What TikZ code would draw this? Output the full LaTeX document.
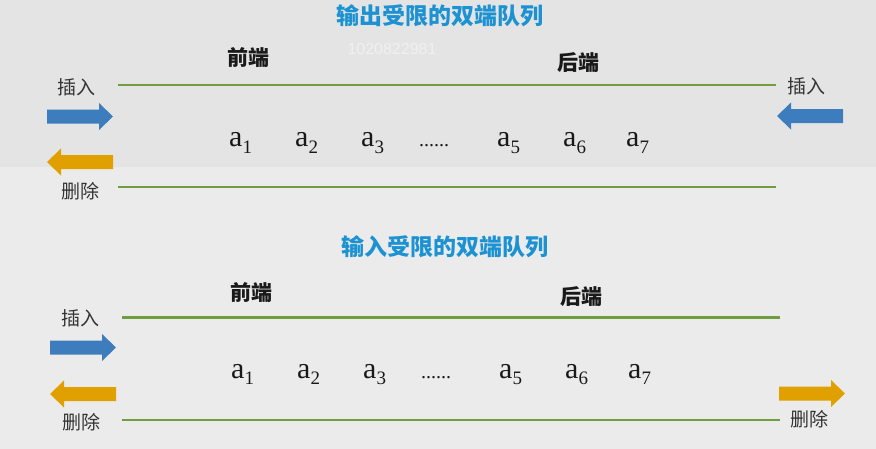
\documentclass[tikz,border=0pt]{standalone}
\usepackage{fontspec}
\setmainfont{Liberation Serif}
\setsansfont{Liberation Sans}
\newfontfamily\cjk{Noto Sans CJK SC}
\usetikzlibrary{positioning}

\definecolor{titleblue}{HTML}{1C92D2}
\definecolor{arrowblue}{HTML}{3D7DBE}
\definecolor{arroworange}{HTML}{E0A000}
\definecolor{linegreen}{HTML}{6E9E40}
\definecolor{bgtop}{HTML}{E4E4E4}
\definecolor{bgbottom}{HTML}{EBEBEB}

\tikzset{
  title/.style={inner sep=0, text=titleblue, font=\cjk\bfseries\fontsize{23}{23}\selectfont},
  side/.style={inner sep=0, text=black!90, font=\cjk\bfseries\fontsize{21}{21}\selectfont},
  op/.style={inner sep=0, text=black!80, font=\cjk\fontsize{19}{19}\selectfont},
  elem/.style={anchor=base west, inner sep=0, text=black!90, font=\fontsize{30}{30}\selectfont},
  dots/.style={anchor=base west, inner sep=0, text=black!90, font=\fontsize{20}{20}\selectfont},
  bound/.style={draw=linegreen, line width=2.5pt},
  fat arrow/.pic={\fill (0,-7) -- (52,-7) -- (52,-13.5) -- (66,0) -- (52,13.5) -- (52,7) -- (0,7) -- cycle;}
}
\newcommand\elm[1]{a\raisebox{-6.5pt}{\fontsize{19}{19}\selectfont #1}}

\begin{document}
\begin{tikzpicture}[x=1pt, y=-1pt]
  \useasboundingbox (0,0) rectangle (876,448);
  % background
  \fill[bgtop] (-2,-2) rectangle (878,167);
  \fill[bgbottom] (-2,167) rectangle (878,450);

  % output restricted
  \node (t1) [title] at (440,16) {输出受限的双端队列};
  \node (wm) [inner sep=0, text=white, opacity=0.45, font=\sffamily\fontsize{16}{16}\selectfont] at (392,48.5) {1020822981};
  \node (front1) [side] at (248.5,58) {前端};
  \node (rear1) [side] at (578.5,63) {后端};
  \coordinate (u1) at (118,85);  \coordinate (u2) at (776,85);
  \coordinate (d1) at (118,187); \coordinate (d2) at (776,187);
  \draw[bound] (u1) -- (u2);
  \draw[bound] (d1) -- (d2);
  \node (inl1) [op] at (76,87.5) {插入};
  \node (inr1) [op] at (806.5,86) {插入};
  \node (del1) [op] at (80.5,191.5) {删除};
  \pic[color=arrowblue] at (47,116.5) {fat arrow};
  \pic[color=arrowblue, xscale=-1] at (843,116) {fat arrow};
  \pic[color=arroworange, xscale=-1] at (113,162) {fat arrow};
  \node (p1) [elem] at (229,146.5) {\elm{1}};
  \node (p2) [elem] at (295,146.5) {\elm{2}};
  \node (p3) [elem] at (361,146.5) {\elm{3}};
  \node (p4) [dots] at (419,146.5) {......};
  \node (p5) [elem] at (497,146.5) {\elm{5}};
  \node (p6) [elem] at (563,146.5) {\elm{6}};
  \node (p7) [elem] at (626,146.5) {\elm{7}};

  % input restricted
  \node (t2) [title] at (444.5,246.5) {输入受限的双端队列};
  \node (front2) [side] at (251,293) {前端};
  \node (rear2) [side] at (581.5,296.5) {后端};
  \coordinate (v1) at (122,317.5); \coordinate (v2) at (780,317.5);
  \coordinate (e1) at (122,420);   \coordinate (e2) at (780,420);
  \draw[bound] (v1) -- (v2);
  \draw[bound] (e1) -- (e2);
  \node (inl2) [op] at (80,318.5) {插入};
  \node (del2) [op] at (81,422) {删除};
  \node (delr2) [op] at (809.5,419) {删除};
  \pic[color=arrowblue] at (50,347.5) {fat arrow};
  \pic[color=arroworange, xscale=-1] at (116,394) {fat arrow};
  \pic[color=arroworange] at (779,393.5) {fat arrow};
  \node (q1) [elem] at (231,378) {\elm{1}};
  \node (q2) [elem] at (297,378) {\elm{2}};
  \node (q3) [elem] at (363,378) {\elm{3}};
  \node (q4) [dots] at (421,378) {......};
  \node (q5) [elem] at (499,378) {\elm{5}};
  \node (q6) [elem] at (565,378) {\elm{6}};
  \node (q7) [elem] at (628,378) {\elm{7}};
\end{tikzpicture}
\end{document}
